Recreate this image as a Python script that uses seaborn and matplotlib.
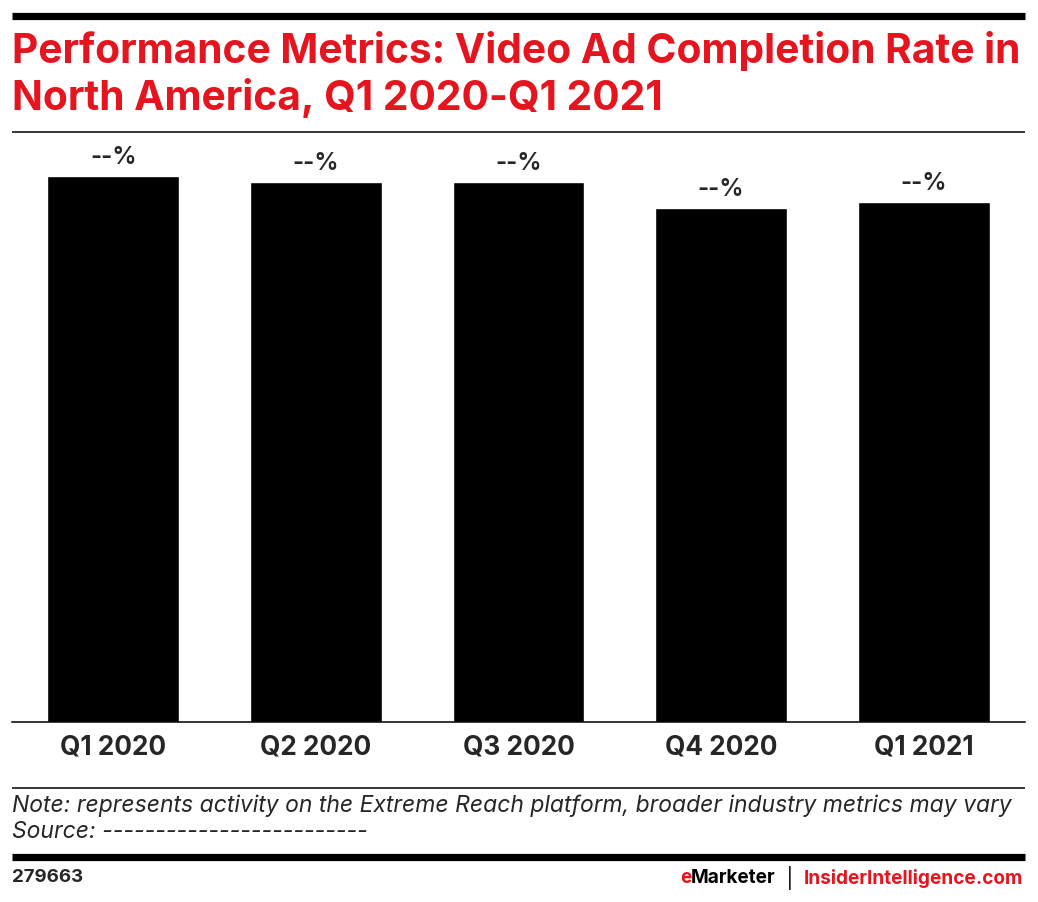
import matplotlib
matplotlib.use("Agg")
import matplotlib.pyplot as plt
import seaborn as sns
import pandas as pd
from matplotlib.lines import Line2D

quarters = ["Q1 2020", "Q2 2020", "Q3 2020", "Q4 2020", "Q1 2021"]
# completion rates (actual values hidden in the source, shown as "--%")
rates = [91.5, 90.5, 90.5, 86.1, 87.1]
bar_labels = ["--%", "--%", "--%", "--%", "--%"]

title_lines = ["Performance Metrics: Video Ad Completion Rate in",
               "North America, Q1 2020-Q1 2021"]
note = "Note: represents activity on the Extreme Reach platform, broader industry metrics may vary"
source = "Source: -------------------------"
chart_id = "279663"

RED = "#E4151F"
W, H = 1038, 902

sns.set_style("white")
plt.rcParams["font.family"] = ["Inter", "DejaVu Sans"]

fig = plt.figure(figsize=(W / 100, H / 100), dpi=100)


def fx(px):
    return px / W


def fy(py):
    return 1 - py / H


def hline(y, lw):
    fig.add_artist(Line2D([fx(12), fx(1025)], [fy(y), fy(y)], color="black",
                          lw=lw, transform=fig.transFigure, solid_capstyle="butt"))


ax = fig.add_axes([fx(12), fy(722), fx(1025) - fx(12), (722 - 125) / H])
df = pd.DataFrame({"quarter": quarters, "rate": rates})
sns.barplot(data=df, x="quarter", y="rate", color="black", width=0.65,
            saturation=1, ax=ax)
ax.set_ylim(0, 100)
ax.set_xlim(-0.5, len(quarters) - 0.5)
ax.set_xlabel("")
ax.set_ylabel("")
ax.set_yticks([])
ax.tick_params(axis="x", length=0, pad=9)
for s in ["top", "left", "right"]:
    ax.spines[s].set_visible(False)
ax.spines["bottom"].set_color("black")
ax.spines["bottom"].set_linewidth(1.1)
ax.patch.set_alpha(0)

# frame lines
hline(15.5, 5.2)
hline(131.5, 1.1)
hline(787.5, 1.1)
hline(856.5, 5.2)

fig.canvas.draw()
r = fig.canvas.get_renderer()


def fit(t, width_px):
    w = t.get_window_extent(r).width
    t.set_fontsize(t.get_fontsize() * width_px / w)
    return t.get_fontsize()


# size of tick labels and bar labels from their widths in the reference
probe = fig.text(0, 0, quarters[0], fontsize=18, fontweight="bold")
tick_fs = fit(probe, 106)
probe.remove()
probe = fig.text(0, 0, bar_labels[0], fontsize=18, fontweight="semibold")
lab_fs = fit(probe, 47)
probe.remove()

ax.bar_label(ax.containers[0], labels=bar_labels, padding=5, fontsize=lab_fs,
             fontweight="semibold")
for lbl in ax.get_xticklabels():
    lbl.set_fontsize(tick_fs)
    lbl.set_fontweight("bold")

t1 = fig.text(fx(12), fy(63), title_lines[0], color=RED, fontsize=30,
              fontweight="bold", va="baseline")
t2 = fig.text(fx(12), fy(110), title_lines[1], color=RED, fontsize=30,
              fontweight="bold", va="baseline")
fit(t1, 1010)
t2.set_fontsize(t1.get_fontsize())

tn = fig.text(fx(12), fy(806), note, fontsize=15, style="italic", va="center")
fit(tn, 1000)
ts = fig.text(fx(12), fy(832), source, fontsize=tn.get_fontsize(),
              style="italic", va="center")

tid = fig.text(fx(12), fy(878), chart_id, fontsize=12.5, fontweight="bold",
               va="center")
fit(tid, 71)

# right footer built from the right edge leftwards
probe = fig.text(0, 0, "eMarketer  |  InsiderIntelligence.com", fontsize=13,
                 fontweight="bold")
foot_fs = fit(probe, 341)
probe.remove()
x = 1023
parts = [("InsiderIntelligence.com", RED, "bold"), ("  |  ", "black", "normal"),
         ("Marketer", "black", "bold"), ("e", RED, "bold")]
for txt, col, wt in parts:
    t = fig.text(fx(x), fy(878), txt, fontsize=foot_fs, fontweight=wt,
                 color=col, ha="right", va="center")
    x -= t.get_window_extent(r).width

fig.savefig("out.png", dpi=100)
